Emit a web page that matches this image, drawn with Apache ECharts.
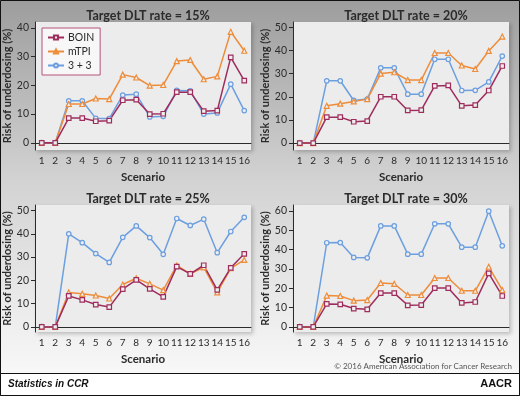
<!DOCTYPE html>
<html>
<head>
<meta charset="utf-8">
<script src="https://cdn.jsdelivr.net/npm/echarts@6/dist/echarts.min.js"></script>
<style>
  html, body { margin: 0; padding: 0; background: #fff; }
  #chart { width: 520px; height: 396px; }
</style>
</head>
<body>
<div id="chart"></div>
<script>
// scenario labels on every x axis
const scenarios = ["1","2","3","4","5","6","7","8","9","10","11","12","13","14","15","16"];

// target DLT rate = 15%
const boin15 = [0, 0, 8.6, 8.6, 7.5, 7.7, 14.8, 15.0, 10.0, 10.1, 17.6, 17.6, 11.0, 11.2, 29.7, 21.6];
const mtpi15 = [0, 0, 13.5, 13.5, 15.4, 15.2, 23.7, 22.7, 19.9, 20.1, 28.4, 28.8, 22.1, 23.1, 38.6, 32.0];
const three15 = [0, 0, 14.6, 14.6, 8.5, 8.4, 16.6, 16.9, 9.0, 9.2, 18.2, 18.1, 10.0, 10.4, 20.4, 11.2];

// target DLT rate = 20%
const boin20 = [0, 0, 11.2, 11.2, 9.2, 9.5, 20.0, 20.0, 14.1, 14.2, 24.7, 24.9, 16.1, 16.4, 22.7, 33.3];
const mtpi20 = [0, 0, 16.1, 17.0, 18.0, 19.0, 30.0, 30.6, 27.2, 27.2, 38.9, 38.9, 33.5, 32.0, 39.8, 46.0];
const three20 = [0, 0, 26.9, 26.9, 18.4, 19.0, 32.5, 32.5, 21.1, 21.1, 36.2, 36.2, 22.7, 22.8, 26.4, 37.6];

// target DLT rate = 25%
const boin25 = [0, 0, 13.3, 11.6, 9.6, 8.5, 16.2, 20.2, 16.3, 12.9, 25.9, 22.8, 26.5, 15.9, 25.4, 31.4];
const mtpi25 = [0, 0, 14.8, 14.2, 13.5, 12.2, 18.2, 20.9, 18.5, 15.8, 26.4, 22.8, 25.6, 14.8, 25.2, 28.8];
const three25 = [0, 0, 40.0, 36.2, 31.5, 27.7, 38.5, 43.4, 38.4, 31.2, 46.6, 43.6, 46.3, 31.9, 41.0, 47.1];

// target DLT rate = 30%
const boin30 = [0, 0, 11.9, 11.7, 9.5, 9.1, 17.5, 17.5, 11.2, 11.3, 20.1, 20.1, 12.4, 12.9, 27.7, 16.0];
const mtpi30 = [0, 0, 16.2, 16.0, 13.6, 13.9, 22.7, 22.3, 16.5, 16.5, 25.3, 25.3, 18.7, 18.7, 31.1, 19.1];
const three30 = [0, 0, 43.5, 43.6, 35.9, 35.7, 52.2, 52.2, 37.6, 37.6, 53.3, 53.3, 41.2, 41.2, 59.8, 41.9];

// y tick values per panel
const ticks15 = [0, 10, 20, 30, 40];
const ticks20 = [0, 10, 20, 30, 40, 50];
const ticks25 = [0, 10, 20, 30, 40, 50];
const ticks30 = [0, 10, 20, 30, 40, 50, 60];

const panels = [
  { title: "Target DLT rate = 15%", boin: boin15, mtpi: mtpi15, three: three15, ticks: ticks15,
    left: 35, top: 22, height: 128, min: -2.5, max: 42 },
  { title: "Target DLT rate = 20%", boin: boin20, mtpi: mtpi20, three: three20, ticks: ticks20,
    left: 293, top: 22, height: 128, min: -3, max: 52.3 },
  { title: "Target DLT rate = 25%", boin: boin25, mtpi: mtpi25, three: three25, ticks: ticks25,
    left: 35, top: 205, height: 127, min: -2.2, max: 52.4 },
  { title: "Target DLT rate = 30%", boin: boin30, mtpi: mtpi30, three: three30, ticks: ticks30,
    left: 293, top: 205, height: 127, min: -2.6, max: 63 },
];

const FONT = "Lato";
const INK = "#2b2b2b";
const colors = { boin: "#9e2c5c", mtpi: "#ee8c3a", three: "#6c9fe0" };
const PLOT_W = 216;

const chart = echarts.init(document.getElementById("chart"), null, { renderer: "canvas" });

const title = [], grid = [], xAxis = [], yAxis = [], series = [];

panels.forEach((p, i) => {
  title.push({
    text: p.title,
    left: p.left + PLOT_W / 2,
    top: p.top - 18,
    textAlign: "center",
    textStyle: { fontFamily: FONT, fontSize: 12.5, fontWeight: "bold", color: INK },
  });
  grid.push({
    left: p.left, top: p.top, width: PLOT_W, height: p.height,
    show: true, backgroundColor: "#ececec", borderWidth: 0,
    shadowColor: "rgba(0,0,0,0.22)", shadowBlur: 4, shadowOffsetX: 2, shadowOffsetY: 2,
  });
  xAxis.push({
    type: "category", gridIndex: i, data: scenarios, boundaryGap: true,
    name: "Scenario", nameLocation: "middle", nameGap: 21,
    nameTextStyle: { fontFamily: FONT, fontSize: 11.5, fontWeight: "bold", color: INK },
    axisLine: { lineStyle: { color: INK, width: 1 } },
    axisTick: { alignWithLabel: true, length: 4, lineStyle: { color: INK } },
    axisLabel: { interval: 0, margin: 6, fontFamily: FONT, fontSize: 10, color: INK },
    splitLine: { show: false },
  });
  yAxis.push({
    type: "value", gridIndex: i, min: p.min, max: p.max,
    name: "Risk of underdosing (%)", nameLocation: "middle", nameGap: 19, nameRotate: 90,
    nameTextStyle: { fontFamily: FONT, fontSize: 11, fontWeight: "bold", color: INK },
    axisLine: { show: true, lineStyle: { color: INK, width: 1 } },
    axisTick: { show: true, length: 4, customValues: p.ticks, lineStyle: { color: INK } },
    axisLabel: { customValues: p.ticks, margin: 6, fontFamily: FONT, fontSize: 10.5, color: INK },
    splitLine: { show: false },
  });
  const mk = (name, data, key, symbol) => ({
    name, type: "line", xAxisIndex: i, yAxisIndex: i, data,
    symbol, symbolSize: symbol === "triangle" ? 5 : 4.5,
    lineStyle: { color: colors[key], width: 1.5 },
    itemStyle: { color: "#eeeeee", borderColor: colors[key], borderWidth: 1.2 },
    color: colors[key],
    animation: false,
  });
  series.push(mk("3 + 3", p.three, "three", "circle"));
  series.push(mk("mTPI", p.mtpi, "mtpi", "triangle"));
  series.push(mk("BOIN", p.boin, "boin", "rect"));
});

chart.setOption({
  animation: false,
  backgroundColor: {
    type: "linear", x: 0, y: 0, x2: 0, y2: 1,
    colorStops: [
      { offset: 0, color: "#9d9d9d" },
      { offset: 0.45, color: "#d2d2d2" },
      { offset: 0.92, color: "#f6f6f6" },
      { offset: 1, color: "#ffffff" },
    ],
  },
  title,
  legend: {
    data: ["BOIN", "mTPI", "3 + 3"],
    orient: "vertical", left: 42, top: 28,
    backgroundColor: "#f7f7f7", borderColor: "#b5527c", borderWidth: 1,
    padding: [4, 6, 4, 5], itemGap: 3, itemWidth: 16, itemHeight: 5,
    textStyle: { fontFamily: FONT, fontSize: 10.5, color: INK, padding: [0, 0, 0, -1] },
  },
  grid, xAxis, yAxis, series,
  graphic: [
    // outer frame and footer strip
    { type: "rect", shape: { x: 0.5, y: 0.5, width: 519, height: 395 },
      style: { fill: null, stroke: "#111", lineWidth: 1 }, silent: true },
    { type: "rect", shape: { x: 0.5, y: 373.5, width: 519, height: 22 },
      style: { fill: "#ffffff", stroke: "#111", lineWidth: 1 }, silent: true },
    { type: "text", left: 8, top: 379,
      style: { text: "Statistics in CCR", font: "italic bold 10px Liberation Sans", fill: "#111" } },
    { type: "text", right: 8, top: 378,
      style: { text: "AACR", font: "bold 11px Liberation Sans", fill: "#111" } },
    { type: "text", right: 8, top: 362,
      style: { text: "© 2016 American Association for Cancer Research", font: "8px " + FONT, fill: "#555" } },
  ],
});
</script>
</body>
</html>
